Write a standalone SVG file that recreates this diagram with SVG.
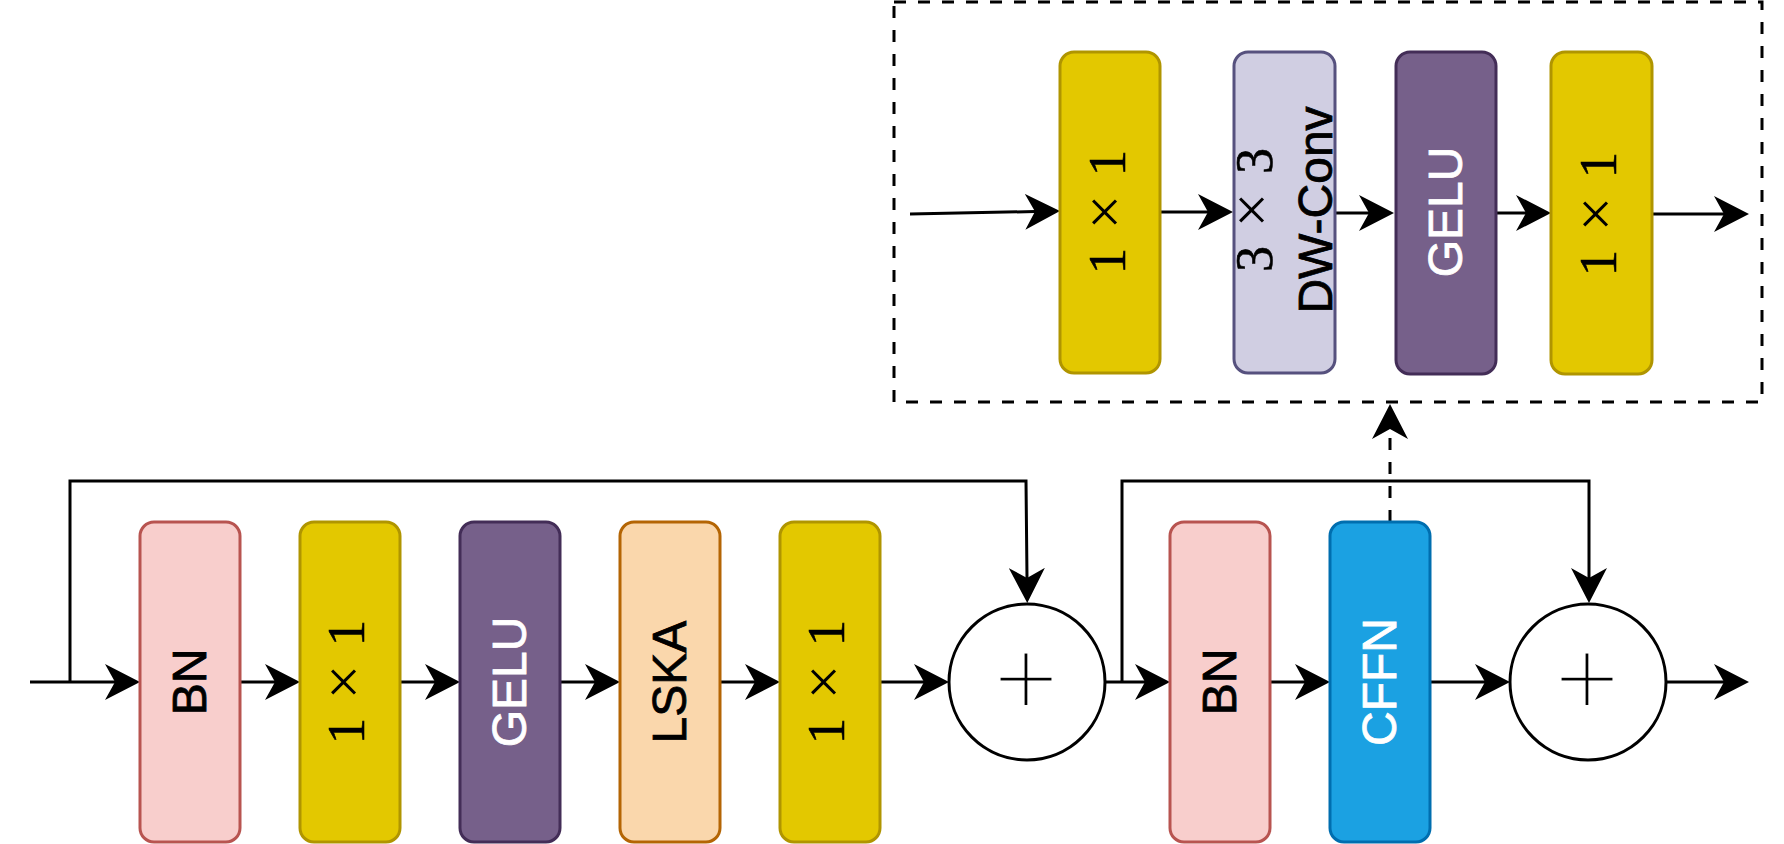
<svg xmlns="http://www.w3.org/2000/svg" width="1784" height="844" viewBox="0 0 1784 844">
<defs>
<style>
.box{stroke-width:3}
.bn{fill:#f8cecc;stroke:#b85450}
.y{fill:#e3c800;stroke:#b09500}
.gelu{fill:#76608a;stroke:#432d57}
.lska{fill:#fad7ac;stroke:#b46504}
.cffn{fill:#1ba1e2;stroke:#006eaf}
.dw{fill:#d0cee2;stroke:#56517e}
.sum{fill:#ffffff;stroke:#000000;stroke-width:3}
.lbl{font-family:"Liberation Sans",Arial,sans-serif;font-size:48px;text-anchor:middle;fill:#000;stroke:#000;stroke-width:0.8}
.w{fill:#ffffff;stroke:#ffffff}
.math{font-family:"Liberation Serif","Times New Roman",serif;font-size:52px;text-anchor:middle;fill:#000;stroke:#000;stroke-width:0.6}
.x{font-size:62px;stroke-width:0}
.plus{font-family:"Liberation Serif","Times New Roman",serif;font-size:116px;text-anchor:middle;fill:#000;stroke:#fff;stroke-width:3}
.c{fill:none;stroke:#000;stroke-width:3}
.d{stroke-dasharray:12 12}
</style>
<marker id="ah" markerUnits="userSpaceOnUse" markerWidth="36" markerHeight="36" viewBox="0 0 36 36" refX="10" refY="18" orient="auto">
<path d="M35,18 L0,0 L10,18 L0,36 Z" fill="#000"/>
</marker>
</defs>
<rect id="container" x="894" y="2" width="868" height="400" fill="none" stroke="#000" stroke-width="3" stroke-dasharray="12 12"/>
<g id="connectors">
<path class="c" d="M30,682 H115" marker-end="url(#ah)"/>
<path class="c" d="M70,682 V481 H1026 L1027,578" marker-end="url(#ah)"/>
<path class="c" d="M240,682 H275" marker-end="url(#ah)"/>
<path class="c" d="M400,682 H435" marker-end="url(#ah)"/>
<path class="c" d="M560,682 H595" marker-end="url(#ah)"/>
<path class="c" d="M720,682 H755" marker-end="url(#ah)"/>
<path class="c" d="M880,682 H924" marker-end="url(#ah)"/>
<path class="c" d="M1105,682 H1145" marker-end="url(#ah)"/>
<path class="c" d="M1122,682 V481 H1589 V578" marker-end="url(#ah)"/>
<path class="c" d="M1270,682 H1305" marker-end="url(#ah)"/>
<path class="c" d="M1430,682 H1485" marker-end="url(#ah)"/>
<path class="c" d="M1665,682 H1724" marker-end="url(#ah)"/>
<path class="c d" d="M1390,522 V429" marker-end="url(#ah)"/>
<path class="c" d="M910,214 L1035,211.5" marker-end="url(#ah)"/>
<path class="c" d="M1160,212 H1208" marker-end="url(#ah)"/>
<path class="c" d="M1335,213 H1369" marker-end="url(#ah)"/>
<path class="c" d="M1496,213 H1526" marker-end="url(#ah)"/>
<path class="c" d="M1652,214 H1724" marker-end="url(#ah)"/>
</g>
<g id="bn1"><rect class="box bn" x="140" y="522" width="100" height="320" rx="14"/><text class="lbl" transform="translate(190,682) rotate(-90)" y="16">BN</text></g>
<g id="conv1"><rect class="box y" x="300" y="522" width="100" height="320" rx="14"/><text class="math" transform="translate(350,682) rotate(-90)" y="14" textLength="124" lengthAdjust="spacing">1 <tspan class="x">×</tspan> 1</text></g>
<g id="gelu1"><rect class="box gelu" x="460" y="522" width="100" height="320" rx="14"/><text class="lbl w" transform="translate(510,682) rotate(-90)" y="16">GELU</text></g>
<g id="lska"><rect class="box lska" x="620" y="522" width="100" height="320" rx="14"/><text class="lbl" transform="translate(670,682) rotate(-90)" y="16">LSKA</text></g>
<g id="conv2"><rect class="box y" x="780" y="522" width="100" height="320" rx="14"/><text class="math" transform="translate(830,682) rotate(-90)" y="14" textLength="124" lengthAdjust="spacing">1 <tspan class="x">×</tspan> 1</text></g>
<g id="add1"><circle class="sum" cx="1027" cy="682" r="78"/><text class="plus" x="1026" y="718">+</text></g>
<g id="bn2"><rect class="box bn" x="1170" y="522" width="100" height="320" rx="14"/><text class="lbl" transform="translate(1220,682) rotate(-90)" y="16">BN</text></g>
<g id="cffn"><rect class="box cffn" x="1330" y="522" width="100" height="320" rx="14"/><text class="lbl w" transform="translate(1380,682) rotate(-90)" y="16">CFFN</text></g>
<g id="add2"><circle class="sum" cx="1588" cy="682" r="78"/><text class="plus" x="1587" y="718">+</text></g>
<g id="conv3"><rect class="box y" x="1060" y="52" width="100" height="321" rx="14"/><text class="math" transform="translate(1110,212) rotate(-90)" y="15" textLength="124" lengthAdjust="spacing">1 <tspan class="x">×</tspan> 1</text></g>
<g id="dwconv"><rect class="box dw" x="1234" y="52" width="101" height="321" rx="14"/><text class="math" transform="translate(1272,210) rotate(-90)" textLength="124" lengthAdjust="spacing">3 <tspan class="x">×</tspan> 3</text><text class="lbl" transform="translate(1332,210) rotate(-90)">DW-Conv</text></g>
<g id="gelu2"><rect class="box gelu" x="1396" y="52" width="100" height="322" rx="14"/><text class="lbl w" transform="translate(1446,212) rotate(-90)" y="16">GELU</text></g>
<g id="conv4"><rect class="box y" x="1551" y="52" width="101" height="322" rx="14"/><text class="math" transform="translate(1601,214) rotate(-90)" y="15" textLength="124" lengthAdjust="spacing">1 <tspan class="x">×</tspan> 1</text></g>
</svg>
